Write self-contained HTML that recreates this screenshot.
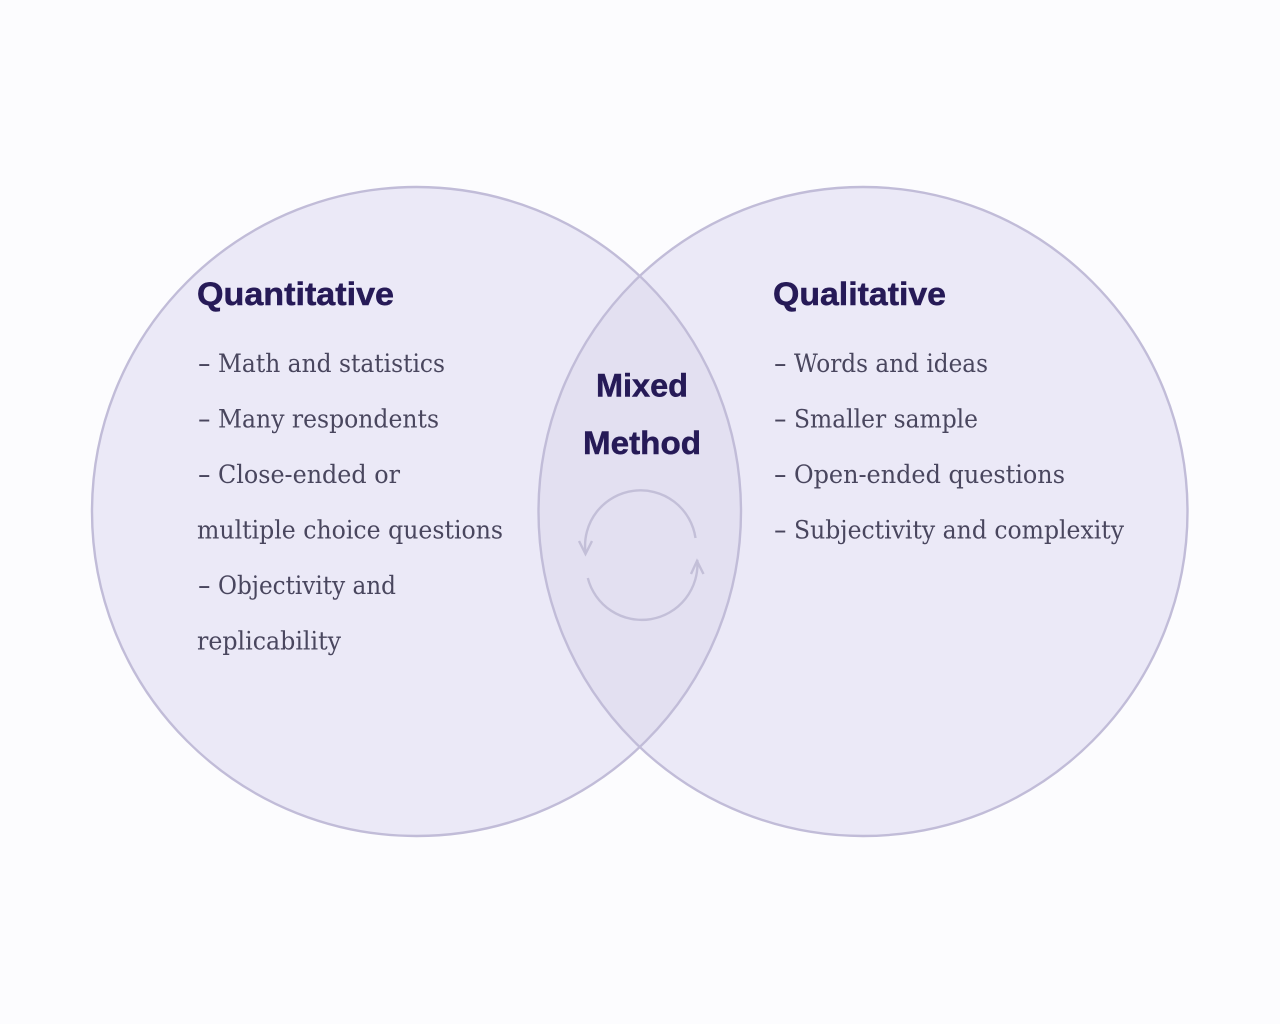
<!DOCTYPE html>
<html>
<head>
<meta charset="utf-8">
<style>
html,body{margin:0;padding:0;background:#fcfcfe;width:1280px;height:1024px;overflow:hidden}
svg{display:block}
.h{font-family:"Liberation Sans",sans-serif;font-weight:700;fill:#261a57;stroke:#261a57;stroke-width:.5;font-size:32px}
.t{font-family:"DejaVu Serif","Liberation Serif",serif;fill:#49465e;font-size:25px}
</style>
</head>
<body>
<svg width="1280" height="1024" viewBox="0 0 1280 1024" xmlns="http://www.w3.org/2000/svg">
<defs><clipPath id="c"><circle cx="416.5" cy="511.5" r="324.5"/></clipPath></defs>
<rect width="1280" height="1024" fill="#fcfcfe"/>
<circle cx="416.5" cy="511.5" r="324.5" fill="#ebe9f7"/>
<circle cx="863" cy="511.5" r="324.5" fill="#ebe9f7"/>
<circle cx="863" cy="511.5" r="324.5" fill="#e3e0f1" clip-path="url(#c)"/>
<circle cx="416.5" cy="511.5" r="324.5" fill="none" stroke="#c1bcd8" stroke-width="2.4"/>
<circle cx="863" cy="511.5" r="324.5" fill="none" stroke="#c1bcd8" stroke-width="2.4"/>
<g fill="none" stroke="#c3bfd8" stroke-width="2.4">
<path d="M695.5 538 A55.5 55.5 0 0 0 585.4 552"/>
<path d="M579 541 L585.5 554 L592 541"/>
<path d="M587.8 578 A55.7 55.7 0 0 0 697.3 560"/>
<path d="M691 574 L697 561 L703.5 574"/>
</g>
<text class="h" x="197" y="305" textLength="197" lengthAdjust="spacingAndGlyphs">Quantitative</text>
<text class="h" x="773" y="305" textLength="173" lengthAdjust="spacingAndGlyphs">Qualitative</text>
<text class="h" x="596" y="396.5" textLength="92" lengthAdjust="spacingAndGlyphs">Mixed</text>
<text class="h" x="583" y="454" textLength="118" lengthAdjust="spacingAndGlyphs">Method</text>

<text class="t" x="197.5" y="372" textLength="13.5" lengthAdjust="spacingAndGlyphs">-</text>
<text class="t" x="218" y="372" textLength="227" lengthAdjust="spacingAndGlyphs">Math and statistics</text>
<text class="t" x="197.5" y="427.5" textLength="13.5" lengthAdjust="spacingAndGlyphs">-</text>
<text class="t" x="218" y="427.5" textLength="221" lengthAdjust="spacingAndGlyphs">Many respondents</text>
<text class="t" x="197.5" y="483" textLength="13.5" lengthAdjust="spacingAndGlyphs">-</text>
<text class="t" x="218" y="483" textLength="182" lengthAdjust="spacingAndGlyphs">Close-ended or</text>
<text class="t" x="197" y="538.5" textLength="306" lengthAdjust="spacingAndGlyphs">multiple choice questions</text>
<text class="t" x="197.5" y="594" textLength="13.5" lengthAdjust="spacingAndGlyphs">-</text>
<text class="t" x="218" y="594" textLength="178" lengthAdjust="spacingAndGlyphs">Objectivity and</text>
<text class="t" x="197" y="649.5" textLength="144" lengthAdjust="spacingAndGlyphs">replicability</text>

<text class="t" x="773.5" y="372" textLength="13.5" lengthAdjust="spacingAndGlyphs">-</text>
<text class="t" x="794" y="372" textLength="194" lengthAdjust="spacingAndGlyphs">Words and ideas</text>
<text class="t" x="773.5" y="427.5" textLength="13.5" lengthAdjust="spacingAndGlyphs">-</text>
<text class="t" x="794" y="427.5" textLength="184" lengthAdjust="spacingAndGlyphs">Smaller sample</text>
<text class="t" x="773.5" y="483" textLength="13.5" lengthAdjust="spacingAndGlyphs">-</text>
<text class="t" x="794" y="483" textLength="271" lengthAdjust="spacingAndGlyphs">Open-ended questions</text>
<text class="t" x="773.5" y="538.5" textLength="13.5" lengthAdjust="spacingAndGlyphs">-</text>
<text class="t" x="794" y="538.5" textLength="330" lengthAdjust="spacingAndGlyphs">Subjectivity and complexity</text>
</svg>
</body>
</html>
